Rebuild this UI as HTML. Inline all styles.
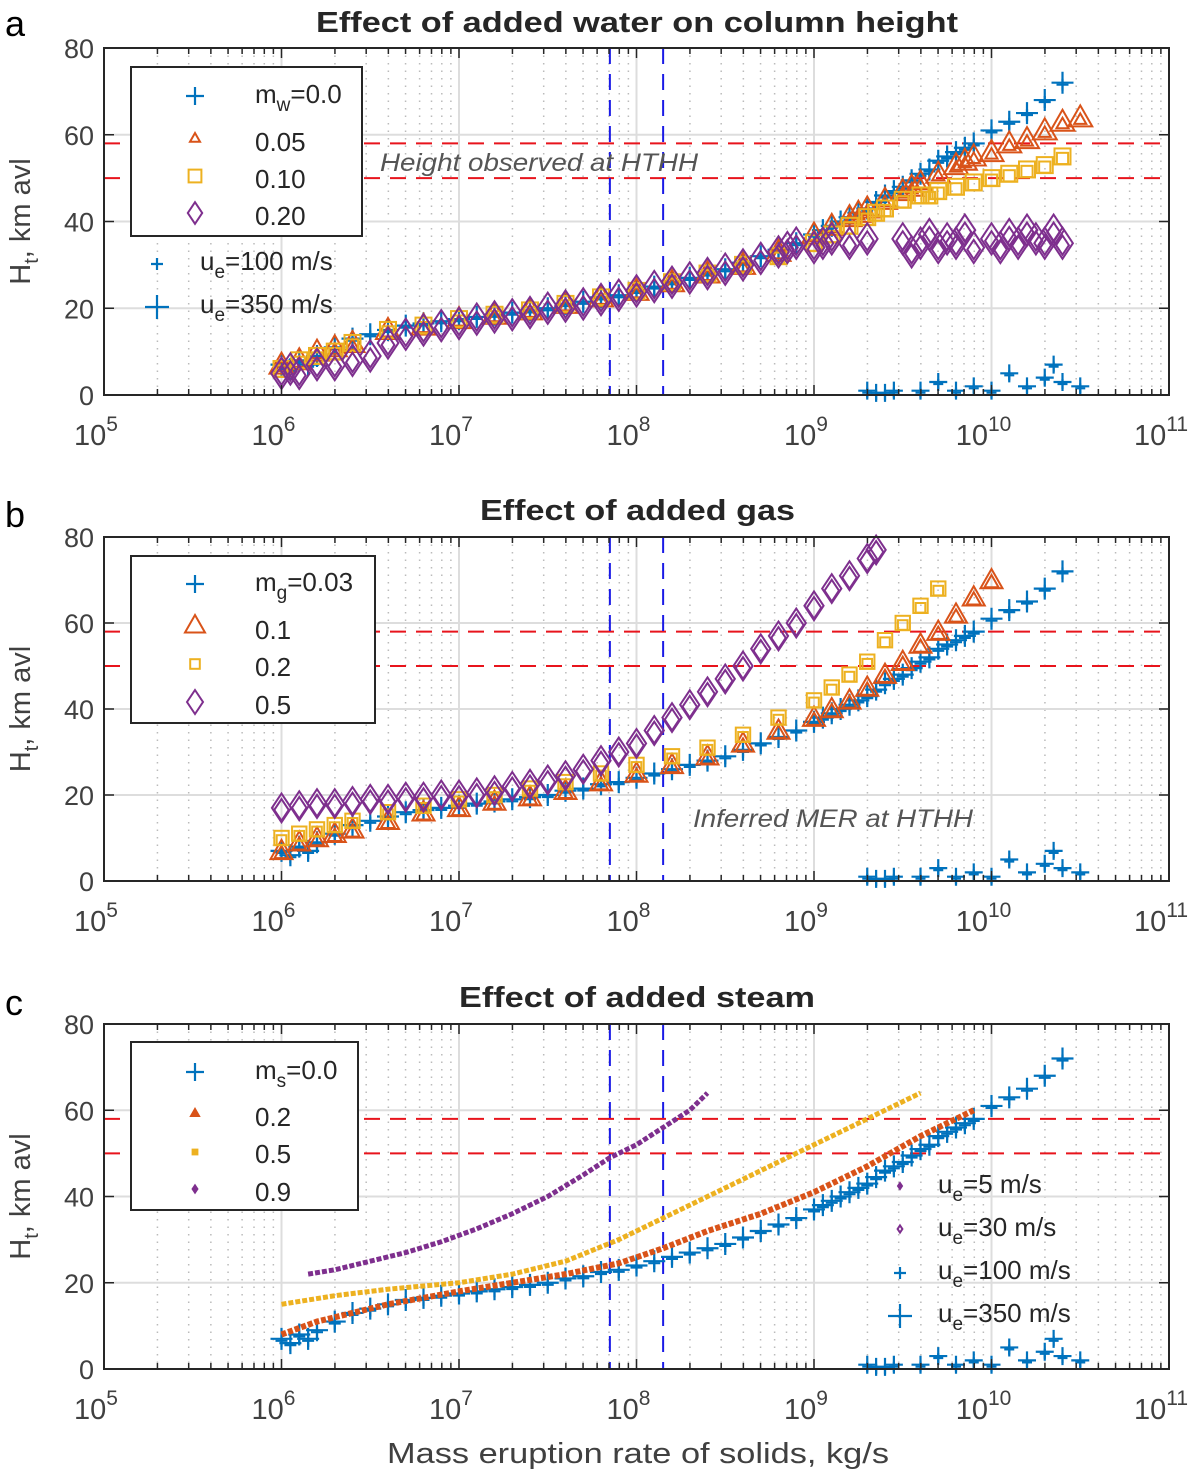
<!DOCTYPE html>
<html><head><meta charset="utf-8"><style>
html,body{margin:0;padding:0;background:#fff}
svg{display:block;font-family:"Liberation Sans",sans-serif}
</style></head><body>
<svg id="chart" width="1200" height="1473" viewBox="0 0 1200 1473"></svg>
<script>
// ---------- data (log10 mass eruption rate, height km) ----------
const baseX = [6.0,6.05,6.1,6.15,6.2,6.3,6.4,6.5,6.6,6.7,6.8,6.9,7.0,7.1,7.2,7.3,7.4,7.5,7.6,7.7,7.8,7.9,8.0,8.1,8.2,8.3,8.4,8.5,8.6,8.7,8.8,8.9,9.0,9.05,9.1,9.15,9.2,9.25,9.3,9.35,9.4,9.45,9.5,9.55,9.6,9.65,9.7,9.75,9.8,9.85,9.9,10.0,10.1,10.2,10.3,10.4];
const baseH = [7,6,8,7,9,11,13,14,15,16,16.5,17,17.5,18,18.5,19,19.5,20,21,21.5,22.5,23,24,25,26,27,28,29,30.5,32,33.5,35,37,38,39,40,41,42,43,44.5,46,47,48,49.5,51,52,54,55,56,57,58,61,63,65,68,72];
const failX = [9.3,9.35,9.4,9.45,9.6,9.7,9.8,9.9,10.0,10.1,10.2,10.3,10.35,10.4,10.5];
const failH = [1,0.5,0.5,1,1,3,1,2,1,5,2,4,7,3,2];
// panel a
const w05X = [6.0,6.1,6.2,6.3,6.4,6.6,6.8,7.0,7.2,7.4,7.6,7.8,8.0,8.2,8.4,8.6,8.8,9.0,9.1,9.2,9.25,9.3,9.4,9.5,9.55,9.6,9.7,9.8,9.85,9.9,10.0,10.1,10.2,10.3,10.4,10.5];
const w05H = [7,8,10,11,12,15,16,17.5,18.5,19.5,21,22.5,24,26,28,30,33,37,39,41,42,43,45,47,48,49,51,53,54,55,56,58,59,61,63,64];
const w10X = [6.0,6.1,6.2,6.3,6.4,6.6,6.8,7.0,7.2,7.4,7.6,7.8,8.0,8.2,8.4,8.6,8.8,9.0,9.1,9.2,9.3,9.35,9.4,9.5,9.6,9.65,9.7,9.8,9.9,10.0,10.1,10.2,10.3,10.4];
const w10H = [6,8,9,10,12,15,16,17.5,18.5,19.5,21,22.5,24,26,28,30,32,35,37,39,41,42,43,45,46,46,47,48,49,50,51,52,53,55];
const w20X = [6.0,6.05,6.1,6.2,6.3,6.4,6.5,6.6,6.7,6.8,6.9,7.0,7.1,7.2,7.3,7.4,7.5,7.6,7.7,7.8,7.9,8.0,8.1,8.2,8.3,8.4,8.5,8.6,8.7,8.8,8.85,8.9,9.0,9.05,9.1,9.2,9.3,9.5,9.55,9.6,9.65,9.7,9.75,9.8,9.85,9.9,10.0,10.05,10.1,10.15,10.2,10.25,10.3,10.35,10.4];
const w20H = [5,6,5,7,7,8,9,12,14,15,16,16.5,17.5,18,18.5,19,20,20.5,21,22,23,24,25,26,27,28,29,30,31.5,33,34,35,34,35,36,35,36,36,33,35,37,34,36,35,38,34,36,34,37,35,38,36,35,38,35];
// panel b
const g01X = [6.0,6.1,6.2,6.3,6.4,6.6,6.8,7.0,7.2,7.4,7.6,7.8,8.0,8.2,8.4,8.6,8.8,9.0,9.1,9.2,9.3,9.4,9.5,9.6,9.7,9.8,9.9,10.0];
const g01H = [7,9,10,11,12,14,16,17,18.5,19.5,21,23,25,27,29,32,35,38,40,42,45,48,51,55,58,62,66,70];
const g02X = [6.0,6.1,6.2,6.3,6.4,6.6,6.8,7.0,7.2,7.4,7.6,7.8,8.0,8.2,8.4,8.6,8.8,9.0,9.1,9.2,9.3,9.4,9.5,9.6,9.7];
const g02H = [10,11,12,13,14,16,17.5,19,20,21.5,23,25,27,29,31,34,38,42,45,48,51,56,60,64,68];
const g05X = [6.0,6.1,6.2,6.3,6.4,6.5,6.6,6.7,6.8,6.9,7.0,7.1,7.2,7.3,7.4,7.5,7.6,7.7,7.8,7.9,8.0,8.1,8.2,8.3,8.4,8.5,8.6,8.7,8.8,8.9,9.0,9.1,9.2,9.3,9.35];
const g05H = [17,17.5,18,18,18.5,19,19,19.5,19.5,20,20,20.5,21,22,22.5,23.5,24.5,26,28,30,32,35,38,41,44,47,50,54,57,60,64,68,71,75,77];
// panel c
const s02X = [6.0,6.2,6.4,6.6,6.8,7.0,7.3,7.6,7.9,8.15,8.4,8.7,9.0,9.3,9.6,9.9];
const s02H = [8,11,13,15,16.5,18,20,22,24.5,28,32,36,41,47,54,60];
const s05X = [6.0,6.3,6.6,7.0,7.3,7.6,7.9,8.15,8.4,8.7,9.0,9.3,9.6];
const s05H = [15,17,18.5,20,22,25,30,35,40,46,52,58,64];
const s09X = [6.15,6.3,6.5,6.7,6.9,7.1,7.3,7.5,7.7,7.85,8.0,8.15,8.3,8.4];
const s09H = [22,23,25,27,29.5,32.5,36,40,45,49,52,56,60,64];
const xTickExp = [5,6,7,8,9,10,11];
const yTicks = [0,20,40,60,80];
const redLines = [50,58];
const blueLines = [7.85,8.15];

// ---------- drawing ----------
const svg = document.getElementById('chart');
const NS = 'http://www.w3.org/2000/svg';
const C = {b:'#0072BD',o:'#D95319',y:'#EDB120',p:'#7E2F8E'};
const L = 104, R = 1169;
function xs(lg){return L + (lg-5)*(R-L)/6;}
function mk(tag, attrs, parent){const e=document.createElementNS(NS,tag);for(const k in attrs)e.setAttribute(k,attrs[k]);(parent||svg).appendChild(e);return e;}
function marker(g, type, x, y, s, col, fill){
  let e;
  if(type==='plus'){e=mk('path',{d:`M${x-s} ${y}H${x+s}M${x} ${y-s}V${y+s}`,stroke:col,'stroke-width':2.2,fill:'none'},g);}
  else if(type==='tri'){e=mk('path',{d:`M${x} ${y-s}L${x+s} ${y+s*0.75}L${x-s} ${y+s*0.75}Z`,stroke:col,'stroke-width':2,fill:fill?col:'none'},g);}
  else if(type==='sq'){e=mk('rect',{x:x-s*0.8,y:y-s*0.8,width:s*1.6,height:s*1.6,stroke:col,'stroke-width':2,fill:fill?col:'none'},g);}
  else {e=mk('path',{d:`M${x} ${y-s*1.2}L${x+s*0.8} ${y}L${x} ${y+s*1.2}L${x-s*0.8} ${y}Z`,stroke:col,'stroke-width':2,fill:fill?col:'none'},g);}
  return e;
}
function panel(name, top, bottom){
  const ys = h => bottom - h*(bottom-top)/80;
  const g = mk('g',{});
  
  
  const grid = mk('g',{},g);
  
  
  for(let d=5; d<11; d++){
    for(let m=2;m<=9;m++){const x=xs(d+Math.log10(m));mk('line',{x1:x,x2:x,y1:top,y2:bottom,stroke:'#bbb','stroke-dasharray':'1.5 6','stroke-width':1.5},grid);}
  }
  xTickExp.forEach(d=>{const x=xs(d);mk('line',{x1:x,x2:x,y1:top,y2:bottom,stroke:'#ddd','stroke-width':2},grid);});
  yTicks.forEach(h=>{mk('line',{x1:L,x2:R,y1:ys(h),y2:ys(h),stroke:'#ddd','stroke-width':2},grid);});
  return {g, ys};
}
function axesFrame(p, top, bottom){
  const {g, ys} = p;
  const ax = mk('g',{},g);
  
  
  mk('rect',{x:L,y:top,width:R-L,height:bottom-top,fill:'none',stroke:'#262626','stroke-width':2},ax);
  for(let d=5; d<11; d++){
    for(let m=1;m<=9;m++){const x=xs(d+Math.log10(m));const t=m===1?10:6;
      mk('line',{x1:x,x2:x,y1:bottom,y2:bottom-t,stroke:'#262626','stroke-width':1.5},ax);
      mk('line',{x1:x,x2:x,y1:top,y2:top+t,stroke:'#262626','stroke-width':1.5},ax);}
  }
  yTicks.forEach(h=>{
    mk('line',{x1:L,x2:L+10,y1:ys(h),y2:ys(h),stroke:'#262626','stroke-width':1.5},ax);
    mk('line',{x1:R,x2:R-10,y1:ys(h),y2:ys(h),stroke:'#262626','stroke-width':1.5},ax);
    const t=mk('text',{x:L-10,y:ys(h)+10,'text-anchor':'end','font-size':27,fill:'#404040'},ax);
    t.textContent=h;
    
    
  });
  xTickExp.forEach(d=>{
    const t=mk('text',{x:xs(d)-8,y:bottom+50,'text-anchor':'middle','font-size':29,fill:'#404040'},ax);
    t.innerHTML=`10<tspan dy="-14" font-size="21">${d}</tspan>`;
    
    
  });
  const yl=mk('text',{transform:`translate(30 ${(top+bottom)/2}) rotate(-90)`,'text-anchor':'middle','font-size':29,fill:'#404040'},ax);
  yl.innerHTML='H<tspan dy="8" font-size="20">t</tspan><tspan dy="-8">, km avl</tspan>';
  
  
}
function refLines(p, top, bottom){
  const {g, ys} = p;
  redLines.forEach(h=>{const l=mk('line',{x1:L,x2:R,y1:ys(h),y2:ys(h),stroke:'#e8141c','stroke-width':2,'stroke-dasharray':'16 10'},g);
    
    });
  blueLines.forEach(v=>{const l=mk('line',{x1:xs(v),x2:xs(v),y1:top,y2:bottom,stroke:'#1a1ae6','stroke-width':2,'stroke-dasharray':'16 10'},g);
    
    });
}
function series(p, name, X, H, type, col, sSmall, sLarge, fill){
  const sg = mk('g',{},p.g);
  
  
  X.forEach((v,i)=>{
    const m = marker(sg, type, xs(v), p.ys(H[i]), sLarge, col, fill);
    
    
    const m2 = marker(sg, type, xs(v), p.ys(H[i])+2, sSmall, col, fill);
    
    
  });
}
function chain(p, name, X, H, col, w, dash){
  const pts = X.map((v,i)=>xs(v)+','+p.ys(H[i])).join(' ');
  const pl = mk('polyline',{points:pts,fill:'none',stroke:col,'stroke-width':w,'stroke-dasharray':dash},p.g);
  
  
}
function txt(x,y,str,size,attrs,name){
  const a = Object.assign({x:x,y:y,'font-size':size,fill:'#262626'},attrs||{});
  if(a.textLength) a.lengthAdjust='spacingAndGlyphs';
  const t=mk('text',a);
  t.innerHTML=str;
  
  
  return t;
}

// ===== Panel a =====
{
  const top=48, bottom=395;
  const p=panel('panel-a',top,bottom);
  refLines(p,top,bottom);
  series(p,'series-mw-0',baseX,baseH,'plus',C.b,6,11);
  series(p,'series-mw-005',w05X,w05H,'tri',C.o,6,12);
  series(p,'series-mw-010',w10X,w10H,'sq',C.y,7,10);
  series(p,'series-mw-020',w20X,w20H,'dia',C.p,8,13);
  series(p,'failed-points-a',failX,failH,'plus',C.b,5,9);
  axesFrame(p,top,bottom);
  txt(380,171,'Height observed at HTHH',25,{'font-style':'italic',fill:'#555',textLength:318},'annotation-height-observed');
  txt(316,32,'Effect of added water on column height',29,{'font-weight':'bold',textLength:642},'title-a');
  txt(5,36,'a',36,{fill:'#000'},'panel-letter-a');
  const lg=mk('g',{});
  
  
  mk('rect',{x:131,y:67,width:231,height:169,fill:'#fff',stroke:'#262626','stroke-width':2},lg);
  marker(lg,'plus',195,96,9,C.b); marker(lg,'tri',195,138,5,C.o); marker(lg,'sq',195,176,8,C.y); marker(lg,'dia',195,213,9,C.p);
  txt(255,103,'m<tspan dy="8" font-size="19">w</tspan><tspan dy="-8">=0.0</tspan>',26,{},'legend-entry-mw-0');
  txt(255,151,'0.05',26,{},'legend-entry-mw-005');
  txt(255,188,'0.10',26,{},'legend-entry-mw-010');
  txt(255,225,'0.20',26,{},'legend-entry-mw-020');
  marker(svg,'plus',157,264,6,C.b); marker(svg,'plus',157,307,12,C.b);
  txt(200,270,'u<tspan dy="8" font-size="19">e</tspan><tspan dy="-8">=100 m/s</tspan>',26,{},'legend-entry-ue-100');
  txt(200,313,'u<tspan dy="8" font-size="19">e</tspan><tspan dy="-8">=350 m/s</tspan>',26,{},'legend-entry-ue-350');
}
// ===== Panel b =====
{
  const top=537, bottom=881;
  const p=panel('panel-b',top,bottom);
  refLines(p,top,bottom);
  series(p,'series-mg-003',baseX,baseH,'plus',C.b,6,11);
  series(p,'series-mg-01',g01X,g01H,'tri',C.o,7,11);
  series(p,'series-mg-02',g02X,g02H,'sq',C.y,6,9);
  series(p,'series-mg-05',g05X,g05H,'dia',C.p,9,12);
  series(p,'failed-points-b',failX,failH,'plus',C.b,5,9);
  axesFrame(p,top,bottom);
  txt(693,827,'Inferred MER at HTHH',25,{'font-style':'italic',fill:'#555',textLength:280},'annotation-inferred-mer');
  txt(480,520,'Effect of added gas',29,{'font-weight':'bold',textLength:315},'title-b');
  txt(5,527,'b',36,{fill:'#000'},'panel-letter-b');
  const lg=mk('g',{});
  
  
  mk('rect',{x:131,y:556,width:244,height:167,fill:'#fff',stroke:'#262626','stroke-width':2},lg);
  marker(lg,'plus',195,584,9,C.b); marker(lg,'tri',195,625,10,C.o); marker(lg,'sq',195,664,6,C.y); marker(lg,'dia',195,702,10,C.p);
  txt(255,591,'m<tspan dy="8" font-size="19">g</tspan><tspan dy="-8">=0.03</tspan>',26,{},'legend-entry-mg-003');
  txt(255,639,'0.1',26,{},'legend-entry-mg-01');
  txt(255,676,'0.2',26,{},'legend-entry-mg-02');
  txt(255,714,'0.5',26,{},'legend-entry-mg-05');
}
// ===== Panel c =====
{
  const top=1024, bottom=1369;
  const p=panel('panel-c',top,bottom);
  refLines(p,top,bottom);
  series(p,'series-ms-0',baseX,baseH,'plus',C.b,6,11);
  chain(p,'series-ms-02',s02X,s02H,C.o,6,'5 2');
  chain(p,'series-ms-05',s05X,s05H,C.y,5,'5 2');
  chain(p,'series-ms-09',s09X,s09H,C.p,5,'5 2');
  series(p,'failed-points-c',failX,failH,'plus',C.b,5,9);
  axesFrame(p,top,bottom);
  txt(459,1007,'Effect of added steam',29,{'font-weight':'bold',textLength:356},'title-c');
  txt(5,1015,'c',36,{fill:'#000'},'panel-letter-c');
  txt(387,1463,'Mass eruption rate of solids, kg/s',29,{fill:'#404040',textLength:502},'x-axis-title');
  const lg=mk('g',{});
  
  
  mk('rect',{x:131,y:1042,width:227,height:168,fill:'#fff',stroke:'#262626','stroke-width':2},lg);
  marker(lg,'plus',195,1072,9,C.b); marker(lg,'tri',195,1113,4,C.o,true); marker(lg,'sq',195,1152,3,C.y,true); marker(lg,'dia',195,1189,3,C.p,true);
  txt(255,1079,'m<tspan dy="8" font-size="19">s</tspan><tspan dy="-8">=0.0</tspan>',26,{},'legend-entry-ms-0');
  txt(255,1126,'0.2',26,{},'legend-entry-ms-02');
  txt(255,1163,'0.5',26,{},'legend-entry-ms-05');
  txt(255,1201,'0.9',26,{},'legend-entry-ms-09');
  marker(svg,'dia',900,1186,2.5,C.p,true); marker(svg,'dia',900,1229,3,C.p);
  marker(svg,'plus',900,1273,6,C.b); marker(svg,'plus',900,1316,12,C.b);
  txt(938,1193,'u<tspan dy="8" font-size="19">e</tspan><tspan dy="-8">=5 m/s</tspan>',26,{},'legend-entry-ue-5');
  txt(938,1236,'u<tspan dy="8" font-size="19">e</tspan><tspan dy="-8">=30 m/s</tspan>',26,{},'legend-entry-ue-30');
  txt(938,1279,'u<tspan dy="8" font-size="19">e</tspan><tspan dy="-8">=100 m/s</tspan>',26,{},'legend-entry-ue-100-c');
  txt(938,1322,'u<tspan dy="8" font-size="19">e</tspan><tspan dy="-8">=350 m/s</tspan>',26,{},'legend-entry-ue-350-c');
}
</script>
</body></html>
